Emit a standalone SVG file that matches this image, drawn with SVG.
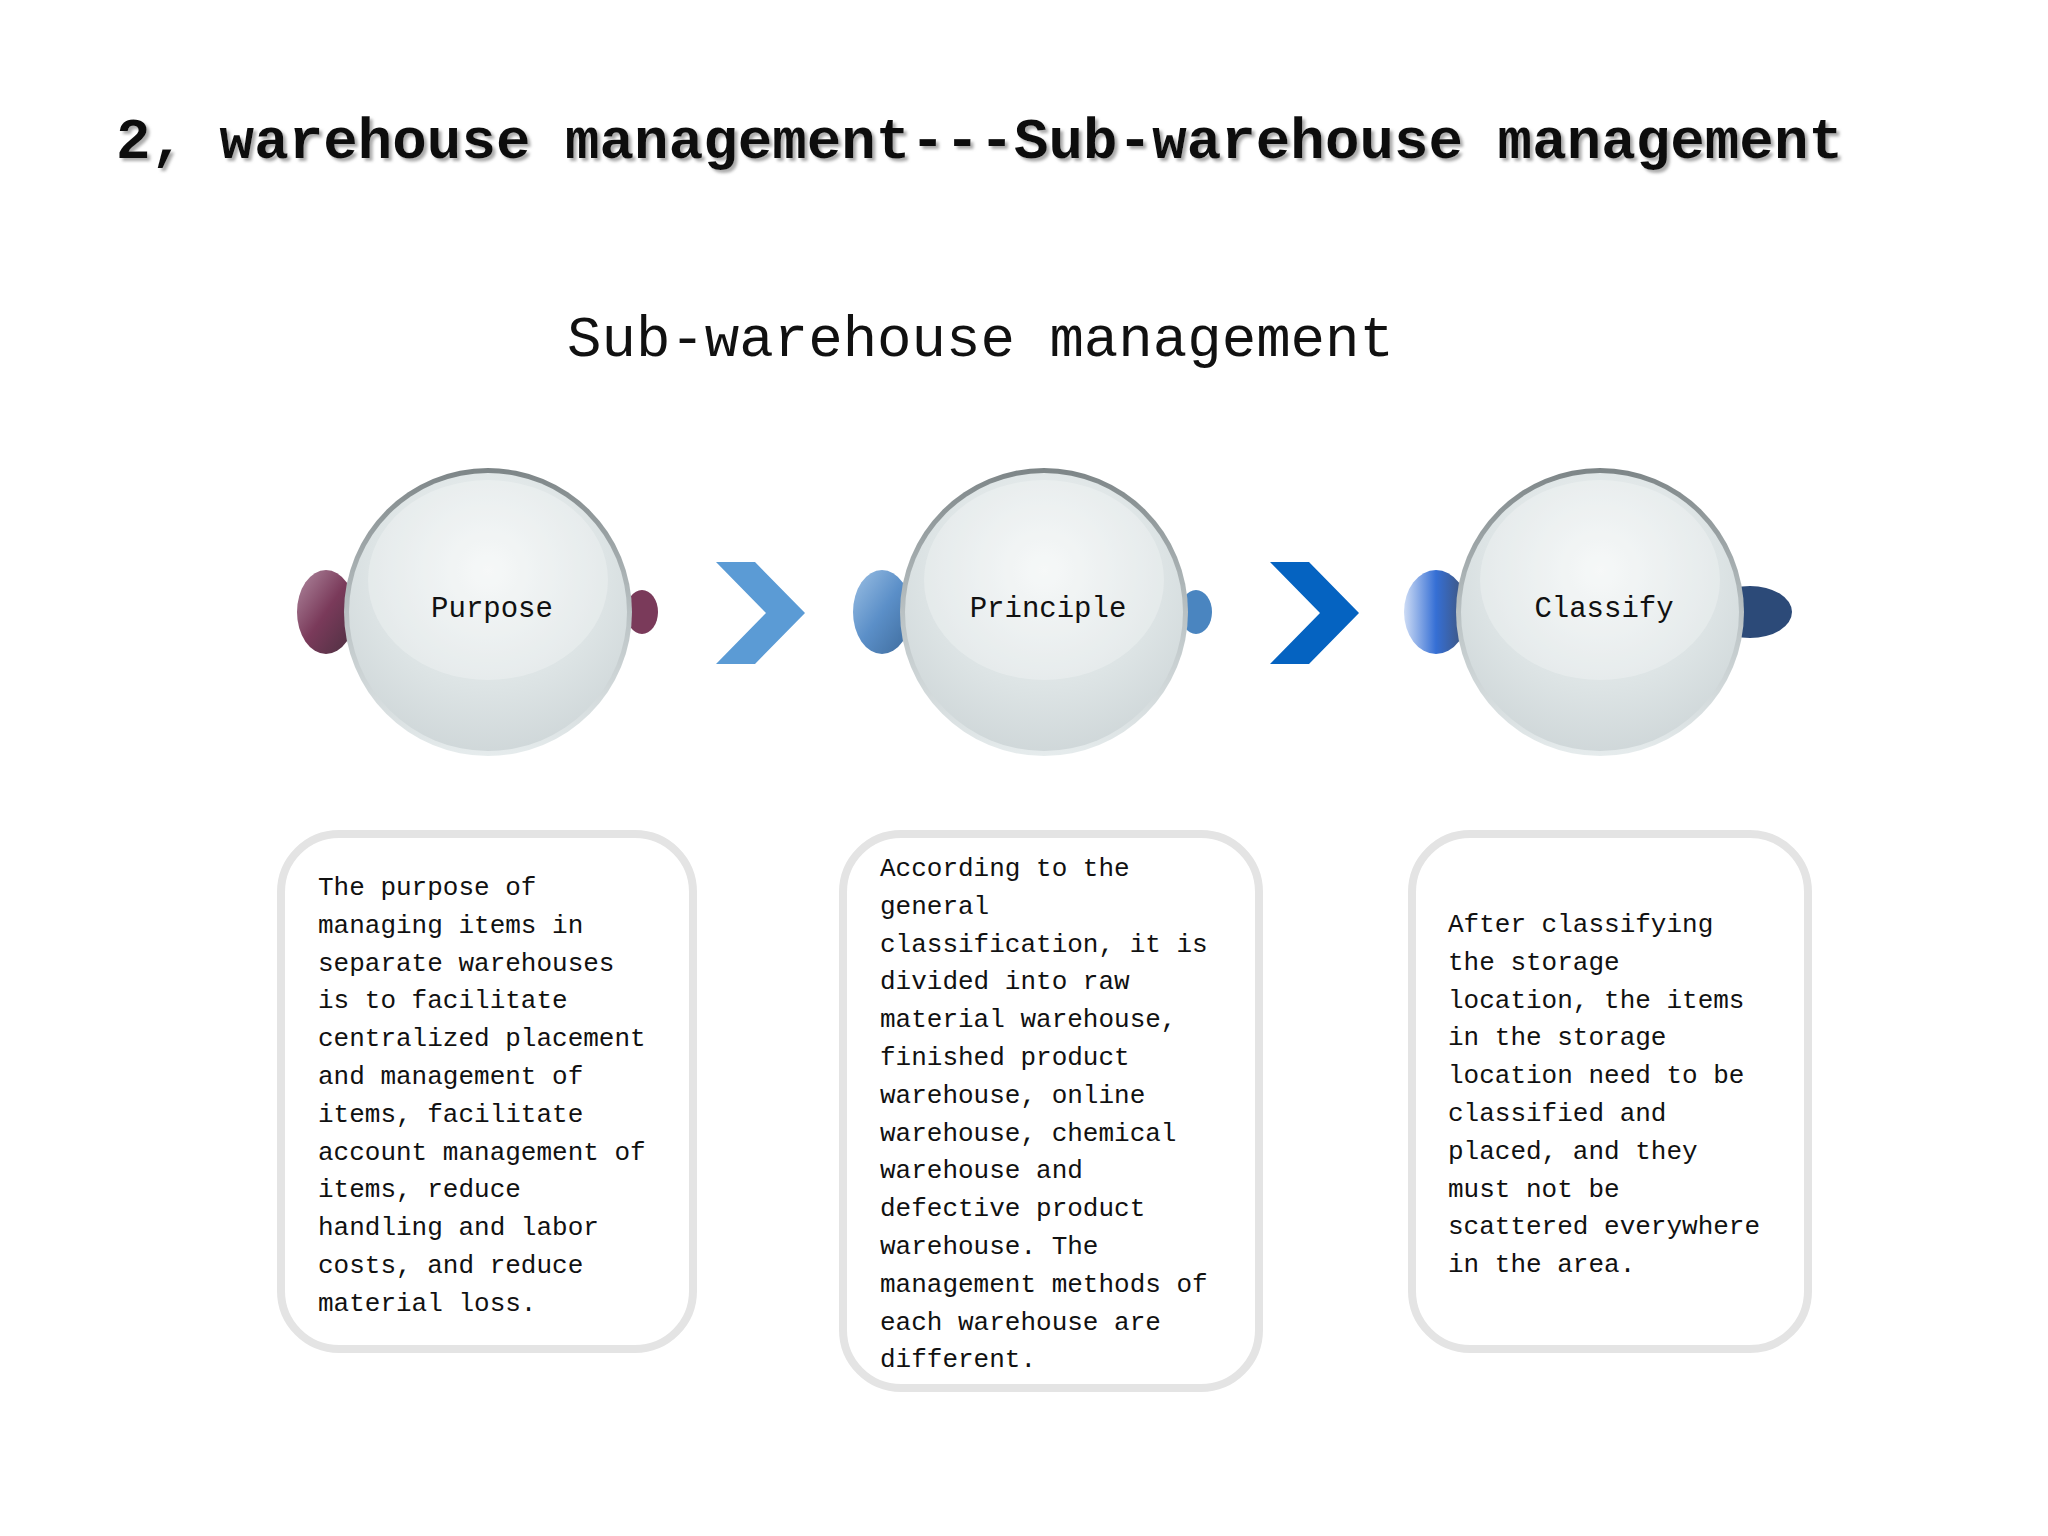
<svg xmlns="http://www.w3.org/2000/svg" width="2048" height="1536" viewBox="0 0 2048 1536">
<defs>
<radialGradient id="glass" cx="0.5" cy="0.35" r="0.7">
<stop offset="0" stop-color="#f3f6f6"/><stop offset="0.6" stop-color="#dde4e5"/><stop offset="1" stop-color="#cdd5d7"/>
</radialGradient>
<linearGradient id="rim" x1="0" y1="0" x2="0" y2="1">
<stop offset="0" stop-color="#7d8587"/><stop offset="0.5" stop-color="#b9c1c3"/><stop offset="1" stop-color="#e6eced"/>
</linearGradient>
<linearGradient id="purp" x1="0" y1="0" x2="1" y2="1">
<stop offset="0" stop-color="#b08aa0"/><stop offset="0.5" stop-color="#7a3a5a"/><stop offset="1" stop-color="#4a3040"/>
</linearGradient>
<linearGradient id="blu1" x1="0" y1="0" x2="1" y2="1">
<stop offset="0" stop-color="#9cc0e4"/><stop offset="0.5" stop-color="#5b8fc8"/><stop offset="1" stop-color="#3d6a9a"/>
</linearGradient>
<linearGradient id="blu2" x1="0" y1="0" x2="1" y2="0">
<stop offset="0" stop-color="#c8d8f4"/><stop offset="0.5" stop-color="#1f5fd0"/><stop offset="1" stop-color="#2c3e60"/>
</linearGradient>
<filter id="sh"><feDropShadow dx="3" dy="3" stdDeviation="1.5" flood-color="#888" flood-opacity="0.7"/></filter>
</defs>
<style>
.lbl{font-family:"Liberation Mono",monospace;font-size:29px;fill:#111;text-anchor:middle}
.body{font-family:"Liberation Mono",monospace;font-size:26px;fill:#111}
.box{fill:#fff;stroke:#e4e4e4;stroke-width:8}
</style>
<rect width="2048" height="1536" fill="#fff"/>
<text x="116" y="158" font-family="Liberation Mono,monospace" font-size="58" font-weight="bold" fill="#111" filter="url(#sh)" textLength="1727" lengthAdjust="spacingAndGlyphs">2, warehouse management---Sub-warehouse management</text>
<text x="567" y="356" font-family="Liberation Mono,monospace" font-size="57" fill="#111" textLength="827" lengthAdjust="spacingAndGlyphs">Sub-warehouse management</text>

<g id="connectors">
<polygon points="716,562 755,562 805,613 755,664 716,664 766,613" fill="#5b9bd5"/>
<polygon points="1270,562 1309,562 1359,613 1309,664 1270,664 1320,613" fill="#0563c1"/>
</g>

<g id="node-purpose">
<ellipse cx="326" cy="612" rx="29" ry="42" fill="url(#purp)"/>
<ellipse cx="642" cy="612" rx="16" ry="22" fill="#7a3a5a"/>
<circle cx="488" cy="612" r="144" fill="url(#rim)"/>
<circle cx="488" cy="612" r="139" fill="url(#glass)"/>
<ellipse cx="488" cy="580" rx="120" ry="100" fill="#fff" opacity="0.25"/>
<text class="lbl" x="492" y="617">Purpose</text>
</g>
<g id="node-principle">
<ellipse cx="882" cy="612" rx="29" ry="42" fill="url(#blu1)"/>
<ellipse cx="1196" cy="612" rx="16" ry="22" fill="#4a85c0"/>
<circle cx="1044" cy="612" r="144" fill="url(#rim)"/>
<circle cx="1044" cy="612" r="139" fill="url(#glass)"/>
<ellipse cx="1044" cy="580" rx="120" ry="100" fill="#fff" opacity="0.25"/>
<text class="lbl" x="1048" y="617">Principle</text>
</g>
<g id="node-classify">
<ellipse cx="1436" cy="612" rx="32" ry="42" fill="url(#blu2)" opacity="0.9"/>
<ellipse cx="1750" cy="612" rx="42" ry="26" fill="#2c4a78"/>
<circle cx="1600" cy="612" r="144" fill="url(#rim)"/>
<circle cx="1600" cy="612" r="139" fill="url(#glass)"/>
<ellipse cx="1600" cy="580" rx="120" ry="100" fill="#fff" opacity="0.25"/>
<text class="lbl" x="1604" y="617">Classify</text>
</g>

<g id="box-purpose">
<rect class="box" x="281" y="834" width="412" height="515" rx="58"/>
<text class="body" x="318" y="895">
<tspan x="318" dy="0">The purpose of</tspan>
<tspan x="318" dy="37.8">managing items in</tspan>
<tspan x="318" dy="37.8">separate warehouses</tspan>
<tspan x="318" dy="37.8">is to facilitate</tspan>
<tspan x="318" dy="37.8">centralized placement</tspan>
<tspan x="318" dy="37.8">and management of</tspan>
<tspan x="318" dy="37.8">items, facilitate</tspan>
<tspan x="318" dy="37.8">account management of</tspan>
<tspan x="318" dy="37.8">items, reduce</tspan>
<tspan x="318" dy="37.8">handling and labor</tspan>
<tspan x="318" dy="37.8">costs, and reduce</tspan>
<tspan x="318" dy="37.8">material loss.</tspan>
</text>
</g>
<g id="box-principle">
<rect class="box" x="843" y="834" width="416" height="554" rx="58"/>
<text class="body" x="880" y="876">
<tspan x="880" dy="0">According to the</tspan>
<tspan x="880" dy="37.8">general</tspan>
<tspan x="880" dy="37.8">classification, it is</tspan>
<tspan x="880" dy="37.8">divided into raw</tspan>
<tspan x="880" dy="37.8">material warehouse,</tspan>
<tspan x="880" dy="37.8">finished product</tspan>
<tspan x="880" dy="37.8">warehouse, online</tspan>
<tspan x="880" dy="37.8">warehouse, chemical</tspan>
<tspan x="880" dy="37.8">warehouse and</tspan>
<tspan x="880" dy="37.8">defective product</tspan>
<tspan x="880" dy="37.8">warehouse. The</tspan>
<tspan x="880" dy="37.8">management methods of</tspan>
<tspan x="880" dy="37.8">each warehouse are</tspan>
<tspan x="880" dy="37.8">different.</tspan>
</text>
</g>
<g id="box-classify">
<rect class="box" x="1412" y="834" width="396" height="515" rx="58"/>
<text class="body" x="1448" y="932">
<tspan x="1448" dy="0">After classifying</tspan>
<tspan x="1448" dy="37.8">the storage</tspan>
<tspan x="1448" dy="37.8">location, the items</tspan>
<tspan x="1448" dy="37.8">in the storage</tspan>
<tspan x="1448" dy="37.8">location need to be</tspan>
<tspan x="1448" dy="37.8">classified and</tspan>
<tspan x="1448" dy="37.8">placed, and they</tspan>
<tspan x="1448" dy="37.8">must not be</tspan>
<tspan x="1448" dy="37.8">scattered everywhere</tspan>
<tspan x="1448" dy="37.8">in the area.</tspan>
</text>
</g>
</svg>
